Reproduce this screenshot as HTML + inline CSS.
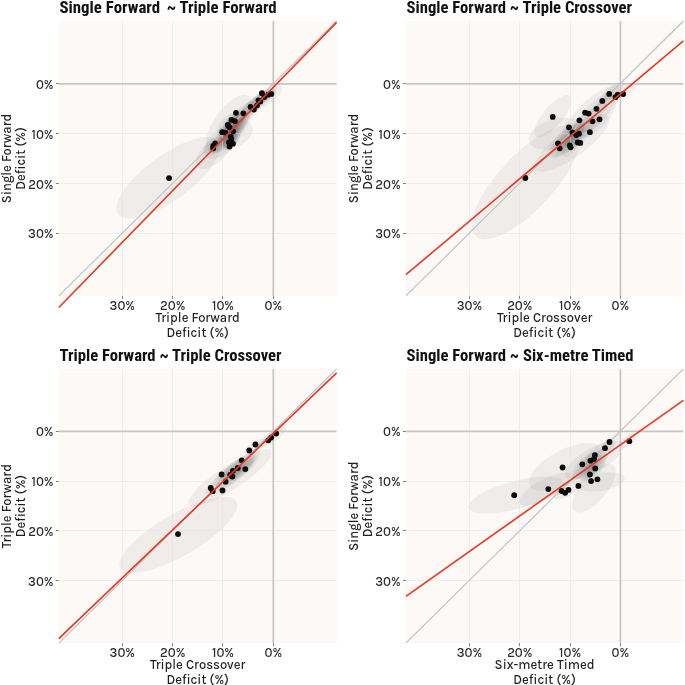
<!DOCTYPE html><html><head><meta charset="utf-8"><style>html,body{margin:0;padding:0;background:#fff;width:685px;height:685px;overflow:hidden}svg{display:block}.ti{font-family:"Roboto Condensed","Liberation Sans Narrow","Liberation Sans",sans-serif;font-weight:700;font-size:16.65px;fill:#111}.ax{font-family:"Karla","Liberation Sans",sans-serif;font-size:13.0px;font-weight:500;fill:#1e1e1e}.tk{font-family:"Karla","Liberation Sans",sans-serif;font-size:13px;font-weight:500;fill:#2a2a2a}</style></head><body>
<svg width="685" height="685" viewBox="0 0 685 685">
<defs>
<clipPath id="c1"><rect x="58.8" y="21.0" width="277.8" height="274.9"/></clipPath>
<clipPath id="c2"><rect x="405.9" y="21.0" width="277.5" height="274.9"/></clipPath>
<clipPath id="c3"><rect x="58.8" y="368.9" width="277.8" height="274.30000000000007"/></clipPath>
<clipPath id="c4"><rect x="405.9" y="368.9" width="277.5" height="274.30000000000007"/></clipPath>
<radialGradient id="rg"><stop offset="0" stop-color="#000" stop-opacity="1"/><stop offset="0.5" stop-color="#000" stop-opacity="0.55"/><stop offset="1" stop-color="#000" stop-opacity="0"/></radialGradient>
</defs>
<text class="ti" x="59.5" y="13.3" textLength="217.20" lengthAdjust="spacingAndGlyphs">Single Forward&#160; <tspan dx="-1.2">~ Triple Forward</tspan></text>
<rect x="58.8" y="21.0" width="277.8" height="274.9" fill="#fcf9f7"/>
<g clip-path="url(#c1)" fill="#808080" fill-opacity="0.1">
<ellipse cx="168.3" cy="177.8" rx="62.0" ry="22.5" transform="rotate(-36 168.3 177.8)"/>
<ellipse cx="265.0" cy="98.5" rx="20.5" ry="7.0" transform="rotate(-34 265.0 98.5)"/>
<ellipse cx="229.0" cy="124.0" rx="34.0" ry="15.0" transform="rotate(-55 229.0 124.0)"/>
<ellipse cx="236.0" cy="134.0" rx="18.0" ry="12.0" transform="rotate(-30 236.0 134.0)"/>
<ellipse cx="222.0" cy="142.0" rx="22.0" ry="12.0" transform="rotate(-40 222.0 142.0)"/>
<ellipse cx="232.0" cy="130.0" rx="20.0" ry="9.0" transform="rotate(-60 232.0 130.0)"/>
<ellipse cx="230.0" cy="138.0" rx="12.0" ry="8.0" transform="rotate(-70 230.0 138.0)"/>
<ellipse cx="228.0" cy="125.0" rx="14.0" ry="8.0" transform="rotate(-50 228.0 125.0)"/>
<ellipse cx="214.0" cy="146.0" rx="12.0" ry="7.0" transform="rotate(-40 214.0 146.0)"/>
<ellipse cx="255.0" cy="104.0" rx="14.0" ry="6.0" transform="rotate(-40 255.0 104.0)"/>
<ellipse cx="262.0" cy="98.0" rx="12.0" ry="5.0" transform="rotate(-35 262.0 98.0)"/>
<ellipse cx="245.0" cy="112.0" rx="14.0" ry="7.0" transform="rotate(-40 245.0 112.0)"/>
<ellipse cx="214.0" cy="152.0" rx="22.0" ry="11.0" transform="rotate(-42 214.0 152.0)"/>
<ellipse cx="231.0" cy="133.0" rx="14.0" ry="7.0" transform="rotate(-65 231.0 133.0)"/>
<ellipse cx="233.0" cy="127.0" rx="16.0" ry="7.0" transform="rotate(-55 233.0 127.0)"/>
<ellipse cx="230.0" cy="141.0" rx="9.0" ry="6.0" transform="rotate(-75 230.0 141.0)"/>
<ellipse cx="226.0" cy="130.0" rx="12.0" ry="6.0" transform="rotate(-50 226.0 130.0)"/>
<ellipse cx="236.0" cy="120.0" rx="12.0" ry="6.0" transform="rotate(-45 236.0 120.0)"/>
<ellipse cx="218.0" cy="145.0" rx="10.0" ry="6.0" transform="rotate(-40 218.0 145.0)"/>
<ellipse cx="250.0" cy="107.0" rx="10.0" ry="5.0" transform="rotate(-40 250.0 107.0)"/>
<ellipse cx="268.0" cy="95.0" rx="9.0" ry="4.0" transform="rotate(-30 268.0 95.0)"/>
</g>
<g clip-path="url(#c1)">
<ellipse cx="232.0" cy="130.0" rx="28.0" ry="12.0" transform="rotate(-55 232.0 130.0)" fill="url(#rg)" opacity="0.32"/>
<ellipse cx="243.0" cy="118.0" rx="40.0" ry="8.0" transform="rotate(-47 243.0 118.0)" fill="url(#rg)" opacity="0.16"/>
<ellipse cx="261.0" cy="99.0" rx="20.0" ry="7.0" transform="rotate(-35 261.0 99.0)" fill="url(#rg)" opacity="0.2"/>
<ellipse cx="215.0" cy="146.0" rx="12.0" ry="7.0" transform="rotate(-40 215.0 146.0)" fill="url(#rg)" opacity="0.12"/>
</g>
<line x1="222.5" y1="21.0" x2="222.5" y2="295.9" stroke="#e0e0e4" stroke-opacity="0.45" stroke-width="1.0"/>
<line x1="58.8" y1="133.5" x2="336.6" y2="133.5" stroke="#e0e0e4" stroke-opacity="0.45" stroke-width="1.0"/>
<line x1="172.5" y1="21.0" x2="172.5" y2="295.9" stroke="#e0e0e4" stroke-opacity="0.45" stroke-width="1.0"/>
<line x1="58.8" y1="183.5" x2="336.6" y2="183.5" stroke="#e0e0e4" stroke-opacity="0.45" stroke-width="1.0"/>
<line x1="122.5" y1="21.0" x2="122.5" y2="295.9" stroke="#e0e0e4" stroke-opacity="0.45" stroke-width="1.0"/>
<line x1="58.8" y1="233.5" x2="336.6" y2="233.5" stroke="#e0e0e4" stroke-opacity="0.45" stroke-width="1.0"/>
<line x1="273.3" y1="21.0" x2="273.3" y2="295.9" stroke="#c6c6c6" stroke-width="1.7"/>
<line x1="58.8" y1="83.9" x2="336.6" y2="83.9" stroke="#c6c6c6" stroke-width="1.7"/>
<line x1="273.5" y1="295.9" x2="273.5" y2="298.9" stroke="#808080" stroke-width="1"/>
<line x1="55.8" y1="83.5" x2="58.8" y2="83.5" stroke="#808080" stroke-width="1"/>
<text class="tk" x="273.3" y="309.9" text-anchor="middle" textLength="17.58" lengthAdjust="spacingAndGlyphs">0%</text>
<text class="tk" x="53.5" y="88.9" text-anchor="end" textLength="17.58" lengthAdjust="spacingAndGlyphs">0%</text>
<line x1="222.5" y1="295.9" x2="222.5" y2="298.9" stroke="#808080" stroke-width="1"/>
<line x1="55.8" y1="133.5" x2="58.8" y2="133.5" stroke="#808080" stroke-width="1"/>
<text class="tk" x="223.0" y="309.9" text-anchor="middle" textLength="22.02" lengthAdjust="spacingAndGlyphs">10%</text>
<text class="tk" x="53.5" y="138.7" text-anchor="end" textLength="22.02" lengthAdjust="spacingAndGlyphs">10%</text>
<line x1="172.5" y1="295.9" x2="172.5" y2="298.9" stroke="#808080" stroke-width="1"/>
<line x1="55.8" y1="183.5" x2="58.8" y2="183.5" stroke="#808080" stroke-width="1"/>
<text class="tk" x="172.7" y="309.9" text-anchor="middle" textLength="25.27" lengthAdjust="spacingAndGlyphs">20%</text>
<text class="tk" x="53.5" y="188.6" text-anchor="end" textLength="25.27" lengthAdjust="spacingAndGlyphs">20%</text>
<line x1="122.5" y1="295.9" x2="122.5" y2="298.9" stroke="#808080" stroke-width="1"/>
<line x1="55.8" y1="233.5" x2="58.8" y2="233.5" stroke="#808080" stroke-width="1"/>
<text class="tk" x="122.3" y="309.9" text-anchor="middle" textLength="25.44" lengthAdjust="spacingAndGlyphs">30%</text>
<text class="tk" x="53.5" y="238.4" text-anchor="end" textLength="25.44" lengthAdjust="spacingAndGlyphs">30%</text>
<text class="ax" x="197.7" y="322.1" text-anchor="middle" textLength="84.30" lengthAdjust="spacingAndGlyphs">Triple Forward</text>
<text class="ax" x="197.7" y="336.5" text-anchor="middle" textLength="62.50" lengthAdjust="spacingAndGlyphs">Deficit (%)</text>
<text class="ax" transform="translate(11.2 158.4) rotate(-90)" x="0" y="0" text-anchor="middle" textLength="89.47" lengthAdjust="spacingAndGlyphs">Single Forward</text>
<text class="ax" transform="translate(24.7 158.4) rotate(-90)" x="0" y="0" text-anchor="middle" textLength="62.50" lengthAdjust="spacingAndGlyphs">Deficit (%)</text>
<line x1="58.8" y1="295.9" x2="336.6" y2="21.0" stroke="#c0c0c0" stroke-width="1.15"/>
<circle cx="261.9" cy="93.2" r="2.9" fill="#0b0b0b"/>
<circle cx="264.4" cy="97.0" r="2.9" fill="#0b0b0b"/>
<circle cx="268.2" cy="94.7" r="2.9" fill="#0b0b0b"/>
<circle cx="271.3" cy="93.9" r="2.9" fill="#0b0b0b"/>
<circle cx="258.5" cy="100.3" r="2.9" fill="#0b0b0b"/>
<circle cx="260.3" cy="101.4" r="2.9" fill="#0b0b0b"/>
<circle cx="257.0" cy="105.4" r="2.9" fill="#0b0b0b"/>
<circle cx="250.6" cy="107.0" r="2.9" fill="#0b0b0b"/>
<circle cx="253.9" cy="109.5" r="2.9" fill="#0b0b0b"/>
<circle cx="236.0" cy="112.8" r="2.9" fill="#0b0b0b"/>
<circle cx="243.4" cy="113.3" r="2.9" fill="#0b0b0b"/>
<circle cx="231.4" cy="119.9" r="2.9" fill="#0b0b0b"/>
<circle cx="234.9" cy="121.2" r="2.9" fill="#0b0b0b"/>
<circle cx="227.8" cy="125.0" r="2.9" fill="#0b0b0b"/>
<circle cx="229.5" cy="127.1" r="2.9" fill="#0b0b0b"/>
<circle cx="222.2" cy="132.2" r="2.9" fill="#0b0b0b"/>
<circle cx="233.2" cy="131.3" r="2.9" fill="#0b0b0b"/>
<circle cx="229.0" cy="126.8" r="2.9" fill="#0b0b0b"/>
<circle cx="230.7" cy="136.7" r="2.9" fill="#0b0b0b"/>
<circle cx="231.3" cy="139.0" r="2.9" fill="#0b0b0b"/>
<circle cx="229.0" cy="142.5" r="2.9" fill="#0b0b0b"/>
<circle cx="233.0" cy="143.7" r="2.9" fill="#0b0b0b"/>
<circle cx="229.5" cy="146.6" r="2.9" fill="#0b0b0b"/>
<circle cx="215.2" cy="143.4" r="2.9" fill="#0b0b0b"/>
<circle cx="213.2" cy="146.0" r="2.9" fill="#0b0b0b"/>
<circle cx="213.2" cy="148.4" r="2.9" fill="#0b0b0b"/>
<circle cx="225.4" cy="132.6" r="2.9" fill="#0b0b0b"/>
<circle cx="169.1" cy="178.1" r="2.9" fill="#0b0b0b"/>
<line x1="58.8" y1="307.5" x2="336.6" y2="22.4" stroke="#e8381f" stroke-width="1.6"/>
<text class="ti" x="406.6" y="13.3" textLength="225.39" lengthAdjust="spacingAndGlyphs">Single Forward ~ Triple Crossover</text>
<rect x="405.9" y="21.0" width="277.5" height="274.9" fill="#fcf9f7"/>
<g clip-path="url(#c2)" fill="#808080" fill-opacity="0.1">
<ellipse cx="525.8" cy="182.5" rx="73.5" ry="27.3" transform="rotate(-47 525.8 182.5)"/>
<ellipse cx="552.8" cy="116.2" rx="26.5" ry="9.8" transform="rotate(-50 552.8 116.2)"/>
<ellipse cx="572.0" cy="143.0" rx="45.0" ry="14.0" transform="rotate(-36 572.0 143.0)"/>
<ellipse cx="590.0" cy="115.0" rx="40.0" ry="13.0" transform="rotate(-45 590.0 115.0)"/>
<ellipse cx="620.0" cy="91.0" rx="16.0" ry="7.0" transform="rotate(-18 620.0 91.0)"/>
<ellipse cx="612.0" cy="92.0" rx="14.0" ry="5.0" transform="rotate(-40 612.0 92.0)"/>
<ellipse cx="567.0" cy="140.0" rx="22.0" ry="10.0" transform="rotate(-45 567.0 140.0)"/>
<ellipse cx="578.0" cy="135.0" rx="18.0" ry="9.0" transform="rotate(-40 578.0 135.0)"/>
<ellipse cx="560.0" cy="147.0" rx="14.0" ry="7.0" transform="rotate(-45 560.0 147.0)"/>
<ellipse cx="596.0" cy="112.0" rx="14.0" ry="6.0" transform="rotate(-45 596.0 112.0)"/>
<ellipse cx="588.0" cy="122.0" rx="16.0" ry="9.0" transform="rotate(-30 588.0 122.0)"/>
<ellipse cx="570.0" cy="146.0" rx="12.0" ry="6.0" transform="rotate(-60 570.0 146.0)"/>
<ellipse cx="597.0" cy="115.0" rx="28.0" ry="12.0" transform="rotate(-50 597.0 115.0)"/>
<ellipse cx="556.0" cy="134.0" rx="28.0" ry="15.0" transform="rotate(-15 556.0 134.0)"/>
</g>
<g clip-path="url(#c2)">
<ellipse cx="572.0" cy="137.0" rx="26.0" ry="11.0" transform="rotate(-42 572.0 137.0)" fill="url(#rg)" opacity="0.28"/>
<ellipse cx="605.0" cy="100.0" rx="14.0" ry="5.0" transform="rotate(-40 605.0 100.0)" fill="url(#rg)" opacity="0.12"/>
</g>
<line x1="570.5" y1="21.0" x2="570.5" y2="295.9" stroke="#e0e0e4" stroke-opacity="0.45" stroke-width="1.0"/>
<line x1="405.9" y1="133.5" x2="683.4" y2="133.5" stroke="#e0e0e4" stroke-opacity="0.45" stroke-width="1.0"/>
<line x1="519.5" y1="21.0" x2="519.5" y2="295.9" stroke="#e0e0e4" stroke-opacity="0.45" stroke-width="1.0"/>
<line x1="405.9" y1="183.5" x2="683.4" y2="183.5" stroke="#e0e0e4" stroke-opacity="0.45" stroke-width="1.0"/>
<line x1="469.5" y1="21.0" x2="469.5" y2="295.9" stroke="#e0e0e4" stroke-opacity="0.45" stroke-width="1.0"/>
<line x1="405.9" y1="233.5" x2="683.4" y2="233.5" stroke="#e0e0e4" stroke-opacity="0.45" stroke-width="1.0"/>
<line x1="620.4" y1="21.0" x2="620.4" y2="295.9" stroke="#c6c6c6" stroke-width="1.7"/>
<line x1="405.9" y1="83.9" x2="683.4" y2="83.9" stroke="#c6c6c6" stroke-width="1.7"/>
<line x1="620.5" y1="295.9" x2="620.5" y2="298.9" stroke="#808080" stroke-width="1"/>
<line x1="402.9" y1="83.5" x2="405.9" y2="83.5" stroke="#808080" stroke-width="1"/>
<text class="tk" x="620.4" y="309.9" text-anchor="middle" textLength="17.58" lengthAdjust="spacingAndGlyphs">0%</text>
<text class="tk" x="400.6" y="88.9" text-anchor="end" textLength="17.58" lengthAdjust="spacingAndGlyphs">0%</text>
<line x1="570.5" y1="295.9" x2="570.5" y2="298.9" stroke="#808080" stroke-width="1"/>
<line x1="402.9" y1="133.5" x2="405.9" y2="133.5" stroke="#808080" stroke-width="1"/>
<text class="tk" x="570.1" y="309.9" text-anchor="middle" textLength="22.02" lengthAdjust="spacingAndGlyphs">10%</text>
<text class="tk" x="400.6" y="138.7" text-anchor="end" textLength="22.02" lengthAdjust="spacingAndGlyphs">10%</text>
<line x1="519.5" y1="295.9" x2="519.5" y2="298.9" stroke="#808080" stroke-width="1"/>
<line x1="402.9" y1="183.5" x2="405.9" y2="183.5" stroke="#808080" stroke-width="1"/>
<text class="tk" x="519.8" y="309.9" text-anchor="middle" textLength="25.27" lengthAdjust="spacingAndGlyphs">20%</text>
<text class="tk" x="400.6" y="188.6" text-anchor="end" textLength="25.27" lengthAdjust="spacingAndGlyphs">20%</text>
<line x1="469.5" y1="295.9" x2="469.5" y2="298.9" stroke="#808080" stroke-width="1"/>
<line x1="402.9" y1="233.5" x2="405.9" y2="233.5" stroke="#808080" stroke-width="1"/>
<text class="tk" x="469.4" y="309.9" text-anchor="middle" textLength="25.44" lengthAdjust="spacingAndGlyphs">30%</text>
<text class="tk" x="400.6" y="238.4" text-anchor="end" textLength="25.44" lengthAdjust="spacingAndGlyphs">30%</text>
<text class="ax" x="544.6" y="322.1" text-anchor="middle" textLength="95.36" lengthAdjust="spacingAndGlyphs">Triple Crossover</text>
<text class="ax" x="544.6" y="336.5" text-anchor="middle" textLength="62.50" lengthAdjust="spacingAndGlyphs">Deficit (%)</text>
<text class="ax" transform="translate(358.3 158.4) rotate(-90)" x="0" y="0" text-anchor="middle" textLength="89.47" lengthAdjust="spacingAndGlyphs">Single Forward</text>
<text class="ax" transform="translate(371.8 158.4) rotate(-90)" x="0" y="0" text-anchor="middle" textLength="62.50" lengthAdjust="spacingAndGlyphs">Deficit (%)</text>
<line x1="405.9" y1="295.9" x2="683.4" y2="21.0" stroke="#c0c0c0" stroke-width="1.15"/>
<circle cx="609.2" cy="93.9" r="2.9" fill="#0b0b0b"/>
<circle cx="617.7" cy="94.7" r="2.9" fill="#0b0b0b"/>
<circle cx="615.5" cy="97.2" r="2.9" fill="#0b0b0b"/>
<circle cx="623.2" cy="94.0" r="2.9" fill="#0b0b0b"/>
<circle cx="602.3" cy="100.9" r="2.9" fill="#0b0b0b"/>
<circle cx="596.5" cy="108.8" r="2.9" fill="#0b0b0b"/>
<circle cx="585.1" cy="112.7" r="2.9" fill="#0b0b0b"/>
<circle cx="588.6" cy="113.6" r="2.9" fill="#0b0b0b"/>
<circle cx="579.4" cy="120.3" r="2.9" fill="#0b0b0b"/>
<circle cx="592.5" cy="121.3" r="2.9" fill="#0b0b0b"/>
<circle cx="599.5" cy="119.3" r="2.9" fill="#0b0b0b"/>
<circle cx="568.9" cy="127.3" r="2.9" fill="#0b0b0b"/>
<circle cx="572.4" cy="132.4" r="2.9" fill="#0b0b0b"/>
<circle cx="576.3" cy="135.0" r="2.9" fill="#0b0b0b"/>
<circle cx="579.0" cy="133.7" r="2.9" fill="#0b0b0b"/>
<circle cx="589.9" cy="132.2" r="2.9" fill="#0b0b0b"/>
<circle cx="558.0" cy="143.3" r="2.9" fill="#0b0b0b"/>
<circle cx="559.7" cy="148.3" r="2.9" fill="#0b0b0b"/>
<circle cx="569.8" cy="145.5" r="2.9" fill="#0b0b0b"/>
<circle cx="570.6" cy="147.3" r="2.9" fill="#0b0b0b"/>
<circle cx="577.7" cy="142.5" r="2.9" fill="#0b0b0b"/>
<circle cx="580.3" cy="142.9" r="2.9" fill="#0b0b0b"/>
<circle cx="552.7" cy="116.9" r="2.9" fill="#0b0b0b"/>
<circle cx="525.3" cy="178.0" r="2.9" fill="#0b0b0b"/>
<line x1="405.9" y1="274.7" x2="683.4" y2="40.8" stroke="#e8381f" stroke-width="1.6"/>
<text class="ti" x="59.5" y="361.2" textLength="222.08" lengthAdjust="spacingAndGlyphs">Triple Forward ~ Triple Crossover</text>
<rect x="58.8" y="368.9" width="277.8" height="274.30000000000007" fill="#fcf9f7"/>
<g clip-path="url(#c3)" fill="#808080" fill-opacity="0.1">
<ellipse cx="178.3" cy="535.0" rx="67.0" ry="21.0" transform="rotate(-30 178.3 535.0)"/>
<ellipse cx="230.0" cy="477.7" rx="49.0" ry="12.0" transform="rotate(-33 230.0 477.7)"/>
<ellipse cx="232.0" cy="474.0" rx="26.0" ry="8.0" transform="rotate(-35 232.0 474.0)"/>
<ellipse cx="238.0" cy="467.0" rx="20.0" ry="7.0" transform="rotate(-35 238.0 467.0)"/>
<ellipse cx="228.0" cy="480.0" rx="14.0" ry="7.0" transform="rotate(-40 228.0 480.0)"/>
<ellipse cx="245.0" cy="462.0" rx="18.0" ry="6.0" transform="rotate(-35 245.0 462.0)"/>
<ellipse cx="272.0" cy="437.0" rx="17.0" ry="5.5" transform="rotate(-35 272.0 437.0)"/>
<ellipse cx="255.0" cy="447.0" rx="12.0" ry="5.0" transform="rotate(-35 255.0 447.0)"/>
<ellipse cx="214.0" cy="489.0" rx="10.0" ry="6.0" transform="rotate(-40 214.0 489.0)"/>
</g>
<g clip-path="url(#c3)">
<ellipse cx="236.0" cy="471.0" rx="28.0" ry="9.0" transform="rotate(-35 236.0 471.0)" fill="url(#rg)" opacity="0.3"/>
<ellipse cx="270.0" cy="438.0" rx="10.0" ry="4.0" transform="rotate(-35 270.0 438.0)" fill="url(#rg)" opacity="0.1"/>
</g>
<line x1="222.5" y1="368.9" x2="222.5" y2="643.2" stroke="#e0e0e4" stroke-opacity="0.45" stroke-width="1.0"/>
<line x1="58.8" y1="481.5" x2="336.6" y2="481.5" stroke="#e0e0e4" stroke-opacity="0.45" stroke-width="1.0"/>
<line x1="172.5" y1="368.9" x2="172.5" y2="643.2" stroke="#e0e0e4" stroke-opacity="0.45" stroke-width="1.0"/>
<line x1="58.8" y1="530.5" x2="336.6" y2="530.5" stroke="#e0e0e4" stroke-opacity="0.45" stroke-width="1.0"/>
<line x1="122.5" y1="368.9" x2="122.5" y2="643.2" stroke="#e0e0e4" stroke-opacity="0.45" stroke-width="1.0"/>
<line x1="58.8" y1="580.5" x2="336.6" y2="580.5" stroke="#e0e0e4" stroke-opacity="0.45" stroke-width="1.0"/>
<line x1="273.3" y1="368.9" x2="273.3" y2="643.2" stroke="#c6c6c6" stroke-width="1.7"/>
<line x1="58.8" y1="431.3" x2="336.6" y2="431.3" stroke="#c6c6c6" stroke-width="1.7"/>
<line x1="273.5" y1="643.2" x2="273.5" y2="646.2" stroke="#808080" stroke-width="1"/>
<line x1="55.8" y1="431.5" x2="58.8" y2="431.5" stroke="#808080" stroke-width="1"/>
<text class="tk" x="273.3" y="657.2" text-anchor="middle" textLength="17.58" lengthAdjust="spacingAndGlyphs">0%</text>
<text class="tk" x="53.5" y="436.3" text-anchor="end" textLength="17.58" lengthAdjust="spacingAndGlyphs">0%</text>
<line x1="222.5" y1="643.2" x2="222.5" y2="646.2" stroke="#808080" stroke-width="1"/>
<line x1="55.8" y1="481.5" x2="58.8" y2="481.5" stroke="#808080" stroke-width="1"/>
<text class="tk" x="223.0" y="657.2" text-anchor="middle" textLength="22.02" lengthAdjust="spacingAndGlyphs">10%</text>
<text class="tk" x="53.5" y="486.1" text-anchor="end" textLength="22.02" lengthAdjust="spacingAndGlyphs">10%</text>
<line x1="172.5" y1="643.2" x2="172.5" y2="646.2" stroke="#808080" stroke-width="1"/>
<line x1="55.8" y1="530.5" x2="58.8" y2="530.5" stroke="#808080" stroke-width="1"/>
<text class="tk" x="172.7" y="657.2" text-anchor="middle" textLength="25.27" lengthAdjust="spacingAndGlyphs">20%</text>
<text class="tk" x="53.5" y="536.0" text-anchor="end" textLength="25.27" lengthAdjust="spacingAndGlyphs">20%</text>
<line x1="122.5" y1="643.2" x2="122.5" y2="646.2" stroke="#808080" stroke-width="1"/>
<line x1="55.8" y1="580.5" x2="58.8" y2="580.5" stroke="#808080" stroke-width="1"/>
<text class="tk" x="122.3" y="657.2" text-anchor="middle" textLength="25.44" lengthAdjust="spacingAndGlyphs">30%</text>
<text class="tk" x="53.5" y="585.8" text-anchor="end" textLength="25.44" lengthAdjust="spacingAndGlyphs">30%</text>
<text class="ax" x="197.7" y="669.4" text-anchor="middle" textLength="95.36" lengthAdjust="spacingAndGlyphs">Triple Crossover</text>
<text class="ax" x="197.7" y="683.8" text-anchor="middle" textLength="62.50" lengthAdjust="spacingAndGlyphs">Deficit (%)</text>
<text class="ax" transform="translate(11.2 506.1) rotate(-90)" x="0" y="0" text-anchor="middle" textLength="84.30" lengthAdjust="spacingAndGlyphs">Triple Forward</text>
<text class="ax" transform="translate(24.7 506.1) rotate(-90)" x="0" y="0" text-anchor="middle" textLength="62.50" lengthAdjust="spacingAndGlyphs">Deficit (%)</text>
<line x1="58.8" y1="643.2" x2="336.6" y2="368.9" stroke="#c0c0c0" stroke-width="1.15"/>
<circle cx="276.2" cy="433.5" r="2.9" fill="#0b0b0b"/>
<circle cx="271.2" cy="437.6" r="2.9" fill="#0b0b0b"/>
<circle cx="268.3" cy="440.3" r="2.9" fill="#0b0b0b"/>
<circle cx="255.4" cy="444.5" r="2.9" fill="#0b0b0b"/>
<circle cx="249.3" cy="450.5" r="2.9" fill="#0b0b0b"/>
<circle cx="241.7" cy="460.3" r="2.9" fill="#0b0b0b"/>
<circle cx="237.8" cy="468.0" r="2.9" fill="#0b0b0b"/>
<circle cx="245.3" cy="469.1" r="2.9" fill="#0b0b0b"/>
<circle cx="232.9" cy="470.8" r="2.9" fill="#0b0b0b"/>
<circle cx="230.2" cy="474.8" r="2.9" fill="#0b0b0b"/>
<circle cx="232.4" cy="476.5" r="2.9" fill="#0b0b0b"/>
<circle cx="221.6" cy="474.5" r="2.9" fill="#0b0b0b"/>
<circle cx="225.6" cy="481.7" r="2.9" fill="#0b0b0b"/>
<circle cx="210.7" cy="488.0" r="2.9" fill="#0b0b0b"/>
<circle cx="212.7" cy="491.2" r="2.9" fill="#0b0b0b"/>
<circle cx="222.5" cy="490.5" r="2.9" fill="#0b0b0b"/>
<circle cx="178.0" cy="534.1" r="2.9" fill="#0b0b0b"/>
<line x1="58.8" y1="638.7" x2="336.6" y2="372.9" stroke="#e8381f" stroke-width="1.6"/>
<text class="ti" x="406.6" y="361.2" textLength="226.91" lengthAdjust="spacingAndGlyphs">Single Forward ~ Six-metre Timed</text>
<rect x="405.9" y="368.9" width="277.5" height="274.30000000000007" fill="#fcf9f7"/>
<g clip-path="url(#c4)" fill="#808080" fill-opacity="0.1">
<ellipse cx="516.0" cy="495.0" rx="49.0" ry="14.0" transform="rotate(-15 516.0 495.0)"/>
<ellipse cx="565.0" cy="467.0" rx="40.0" ry="17.0" transform="rotate(-28 565.0 467.0)"/>
<ellipse cx="546.0" cy="489.0" rx="30.0" ry="10.0" transform="rotate(-28 546.0 489.0)"/>
<ellipse cx="594.0" cy="488.0" rx="30.0" ry="13.0" transform="rotate(-50 594.0 488.0)"/>
<ellipse cx="601.0" cy="482.0" rx="24.0" ry="9.0" transform="rotate(-10 601.0 482.0)"/>
<ellipse cx="594.0" cy="460.0" rx="33.0" ry="12.0" transform="rotate(-30 594.0 460.0)"/>
<ellipse cx="598.0" cy="456.0" rx="22.0" ry="8.0" transform="rotate(-45 598.0 456.0)"/>
<ellipse cx="590.0" cy="465.0" rx="20.0" ry="10.0" transform="rotate(-35 590.0 465.0)"/>
<ellipse cx="628.0" cy="441.0" rx="10.0" ry="5.0" transform="rotate(-40 628.0 441.0)"/>
<ellipse cx="585.0" cy="472.0" rx="16.0" ry="8.0" transform="rotate(-40 585.0 472.0)"/>
<ellipse cx="566.0" cy="490.0" rx="14.0" ry="7.0" transform="rotate(-30 566.0 490.0)"/>
<ellipse cx="610.0" cy="443.0" rx="12.0" ry="5.0" transform="rotate(-45 610.0 443.0)"/>
</g>
<g clip-path="url(#c4)">
<ellipse cx="591.0" cy="466.0" rx="20.0" ry="12.0" transform="rotate(-50 591.0 466.0)" fill="url(#rg)" opacity="0.25"/>
</g>
<line x1="570.5" y1="368.9" x2="570.5" y2="643.2" stroke="#e0e0e4" stroke-opacity="0.45" stroke-width="1.0"/>
<line x1="405.9" y1="481.5" x2="683.4" y2="481.5" stroke="#e0e0e4" stroke-opacity="0.45" stroke-width="1.0"/>
<line x1="519.5" y1="368.9" x2="519.5" y2="643.2" stroke="#e0e0e4" stroke-opacity="0.45" stroke-width="1.0"/>
<line x1="405.9" y1="530.5" x2="683.4" y2="530.5" stroke="#e0e0e4" stroke-opacity="0.45" stroke-width="1.0"/>
<line x1="469.5" y1="368.9" x2="469.5" y2="643.2" stroke="#e0e0e4" stroke-opacity="0.45" stroke-width="1.0"/>
<line x1="405.9" y1="580.5" x2="683.4" y2="580.5" stroke="#e0e0e4" stroke-opacity="0.45" stroke-width="1.0"/>
<line x1="620.4" y1="368.9" x2="620.4" y2="643.2" stroke="#c6c6c6" stroke-width="1.7"/>
<line x1="405.9" y1="431.3" x2="683.4" y2="431.3" stroke="#c6c6c6" stroke-width="1.7"/>
<line x1="620.5" y1="643.2" x2="620.5" y2="646.2" stroke="#808080" stroke-width="1"/>
<line x1="402.9" y1="431.5" x2="405.9" y2="431.5" stroke="#808080" stroke-width="1"/>
<text class="tk" x="620.4" y="657.2" text-anchor="middle" textLength="17.58" lengthAdjust="spacingAndGlyphs">0%</text>
<text class="tk" x="400.6" y="436.3" text-anchor="end" textLength="17.58" lengthAdjust="spacingAndGlyphs">0%</text>
<line x1="570.5" y1="643.2" x2="570.5" y2="646.2" stroke="#808080" stroke-width="1"/>
<line x1="402.9" y1="481.5" x2="405.9" y2="481.5" stroke="#808080" stroke-width="1"/>
<text class="tk" x="570.1" y="657.2" text-anchor="middle" textLength="22.02" lengthAdjust="spacingAndGlyphs">10%</text>
<text class="tk" x="400.6" y="486.1" text-anchor="end" textLength="22.02" lengthAdjust="spacingAndGlyphs">10%</text>
<line x1="519.5" y1="643.2" x2="519.5" y2="646.2" stroke="#808080" stroke-width="1"/>
<line x1="402.9" y1="530.5" x2="405.9" y2="530.5" stroke="#808080" stroke-width="1"/>
<text class="tk" x="519.8" y="657.2" text-anchor="middle" textLength="25.27" lengthAdjust="spacingAndGlyphs">20%</text>
<text class="tk" x="400.6" y="536.0" text-anchor="end" textLength="25.27" lengthAdjust="spacingAndGlyphs">20%</text>
<line x1="469.5" y1="643.2" x2="469.5" y2="646.2" stroke="#808080" stroke-width="1"/>
<line x1="402.9" y1="580.5" x2="405.9" y2="580.5" stroke="#808080" stroke-width="1"/>
<text class="tk" x="469.4" y="657.2" text-anchor="middle" textLength="25.44" lengthAdjust="spacingAndGlyphs">30%</text>
<text class="tk" x="400.6" y="585.8" text-anchor="end" textLength="25.44" lengthAdjust="spacingAndGlyphs">30%</text>
<text class="ax" x="544.6" y="669.4" text-anchor="middle" textLength="99.98" lengthAdjust="spacingAndGlyphs">Six-metre Timed</text>
<text class="ax" x="544.6" y="683.8" text-anchor="middle" textLength="62.50" lengthAdjust="spacingAndGlyphs">Deficit (%)</text>
<text class="ax" transform="translate(358.3 506.1) rotate(-90)" x="0" y="0" text-anchor="middle" textLength="89.47" lengthAdjust="spacingAndGlyphs">Single Forward</text>
<text class="ax" transform="translate(371.8 506.1) rotate(-90)" x="0" y="0" text-anchor="middle" textLength="62.50" lengthAdjust="spacingAndGlyphs">Deficit (%)</text>
<line x1="405.9" y1="643.2" x2="683.4" y2="368.9" stroke="#c0c0c0" stroke-width="1.15"/>
<circle cx="629.3" cy="441.2" r="2.9" fill="#0b0b0b"/>
<circle cx="609.5" cy="442.0" r="2.9" fill="#0b0b0b"/>
<circle cx="605.0" cy="448.2" r="2.9" fill="#0b0b0b"/>
<circle cx="594.9" cy="455.1" r="2.9" fill="#0b0b0b"/>
<circle cx="594.0" cy="459.2" r="2.9" fill="#0b0b0b"/>
<circle cx="590.4" cy="460.7" r="2.9" fill="#0b0b0b"/>
<circle cx="582.3" cy="464.3" r="2.9" fill="#0b0b0b"/>
<circle cx="562.6" cy="467.5" r="2.9" fill="#0b0b0b"/>
<circle cx="595.2" cy="468.4" r="2.9" fill="#0b0b0b"/>
<circle cx="589.9" cy="474.5" r="2.9" fill="#0b0b0b"/>
<circle cx="597.4" cy="479.3" r="2.9" fill="#0b0b0b"/>
<circle cx="591.1" cy="481.1" r="2.9" fill="#0b0b0b"/>
<circle cx="578.4" cy="485.9" r="2.9" fill="#0b0b0b"/>
<circle cx="568.5" cy="489.9" r="2.9" fill="#0b0b0b"/>
<circle cx="565.1" cy="492.8" r="2.9" fill="#0b0b0b"/>
<circle cx="561.6" cy="491.0" r="2.9" fill="#0b0b0b"/>
<circle cx="548.3" cy="489.1" r="2.9" fill="#0b0b0b"/>
<circle cx="514.2" cy="495.2" r="2.9" fill="#0b0b0b"/>
<line x1="405.9" y1="596.3" x2="683.4" y2="400.3" stroke="#e8381f" stroke-width="1.6"/>
</svg></body></html>
